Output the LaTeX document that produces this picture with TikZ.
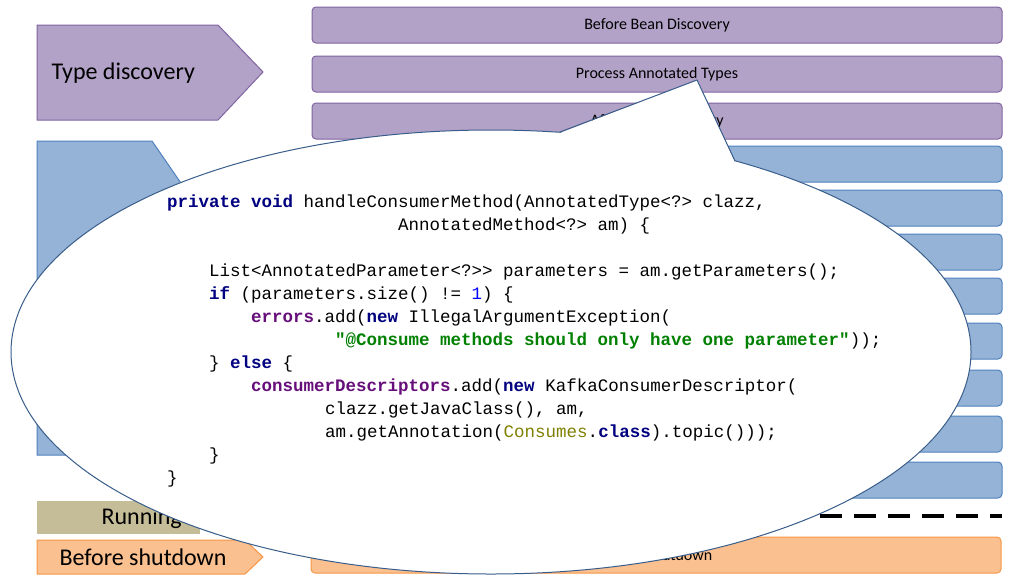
\documentclass[tikz,border=0pt]{standalone}
\usepackage{fontspec}
\setmainfont{Carlito}
\newfontfamily\codefont{Liberation Mono}
\begin{document}
\begin{tikzpicture}[x=1pt,y=-1pt,
 pbar/.style={draw=purpleB,fill=purpleF,line width=1pt,rounded corners=4pt},
 bbar/.style={draw=blueB,fill=blueF,line width=1pt,rounded corners=4pt},
 obar/.style={draw=orangeB,fill=orangeF,line width=1pt,rounded corners=4pt},
 lbl/.style={font=\fontsize{16}{18}\selectfont},
 big/.style={font=\fontsize{24}{28}\selectfont},
 code/.style={anchor=base west,inner sep=0pt,font=\codefont\fontsize{17.5}{20}\selectfont},
 kw/.style={}]
\definecolor{purpleF}{HTML}{B3A2C7}\definecolor{purpleB}{HTML}{8064A2}
\definecolor{blueF}{HTML}{95B3D7}\definecolor{blueB}{HTML}{4F81BD}
\definecolor{orangeF}{HTML}{FAC090}\definecolor{orangeB}{HTML}{F79646}
\definecolor{oliveF}{HTML}{C4BD97}\definecolor{edge}{HTML}{385D8A}
\definecolor{kwc}{HTML}{000080}\definecolor{fld}{HTML}{660E7A}
\definecolor{strc}{HTML}{008000}\definecolor{annc}{HTML}{808000}
\useasboundingbox (0,0) rectangle (1024,576);
% left shapes
\draw[purpleB,fill=purpleF,line width=1pt] (37,25)--(218,25)--(263,72)--(218,120)--(37,120)--cycle;
\node[big,anchor=west] (td) at (48,73) {Type discovery};
\draw[blueB,fill=blueF,line width=1pt] (37,141)--(152,141)--(260,298)--(152,455)--(37,455)--cycle;
\fill[oliveF] (37,501) rectangle (200,534);
\node[big,anchor=west] (run) at (98,518) {Running};
\draw[orangeB,fill=orangeF,line width=1pt] (37,540)--(245,540)--(263,557)--(245,574)--(37,574)--cycle;
\node[big,anchor=west] (bs) at (56,557) {Before shutdown};
% bars
\node[pbar,lbl,minimum width=690pt,minimum height=36pt] (b1) at (657,25) {Before Bean Discovery};
\node[pbar,lbl,minimum width=690pt,minimum height=36pt] (b2) at (657,74) {Process Annotated Types};
\node[pbar,lbl,minimum width=690pt,minimum height=36pt] (b3) at (657,121) {After Type Discovery};
\foreach \y/\t in {164/Process Injection Target,208/,252/,296/,341/,388/,434/,480/}
 \node[bbar,lbl,minimum width=690pt,minimum height=36pt] at (657,\y) {\t};
\node[obar,lbl,minimum width=690pt,minimum height=36pt] (b4) at (656,555) {Before Shutdown};
\draw[line width=4pt,dash pattern=on 22pt off 12pt] (820,516)--(1002,516);
% callout
\draw[edge,fill=white,line width=1pt] (491,352) ellipse [x radius=480, y radius=222];
\fill[white] (560,133)--(697,80)--(735,162)--cycle;
\draw[edge,line width=1pt] (560,132)--(697,80)--(735,161);
% code
\begin{scope}[every node/.style={code}]
\node at (167,207) {\textcolor{kwc}{\bfseries private void} handleConsumerMethod(AnnotatedType<?> clazz,};
\node at (398,230) {AnnotatedMethod<?> am) \{};
\node at (209,276) {List<AnnotatedParameter<?>> parameters = am.getParameters();};
\node at (209,299) {\textcolor{kwc}{\bfseries if} (parameters.size() != \textcolor{blue}{1}) \{};
\node at (251,322) {\textcolor{fld}{\bfseries errors}.add(\textcolor{kwc}{\bfseries new} IllegalArgumentException(};
\node at (335,345) {\textcolor{strc}{\bfseries "@Consume methods should only have one parameter"}));};
\node at (209,368) {\} \textcolor{kwc}{\bfseries else} \{};
\node at (251,391) {\textcolor{fld}{\bfseries consumerDescriptors}.add(\textcolor{kwc}{\bfseries new} KafkaConsumerDescriptor(};
\node at (325,414) {clazz.getJavaClass(), am,};
\node at (325,437) {am.getAnnotation(\textcolor{annc}{Consumes}.\textcolor{kwc}{\bfseries class}).topic()));};
\node at (209,460) {\}};
\node at (167,483) {\}};
\end{scope}
\end{tikzpicture}
\end{document}
